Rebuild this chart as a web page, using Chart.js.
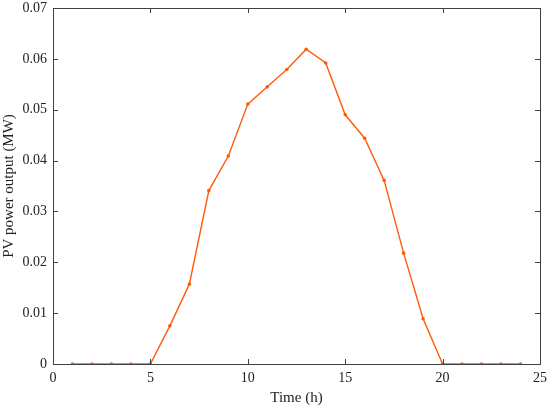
<!DOCTYPE html>
<html>
<head>
<meta charset="utf-8">
<script src="https://cdn.jsdelivr.net/npm/chart.js@4/dist/chart.umd.min.js"></script>
<style>
  html, body { margin: 0; padding: 0; background: #fff; }
  #wrap { width: 550px; height: 407px; }
</style>
</head>
<body>
<div id="wrap"><canvas id="pv-chart" width="550" height="407"></canvas></div>
<script>
// Hourly PV output
const hours = [1, 2, 3, 4, 5, 6, 7, 8, 9, 10, 11, 12, 13, 14, 15, 16, 17, 18, 19, 20, 21, 22, 23, 24];
const pvOutput = [0, 0, 0, 0, 0, 0.0075, 0.0157, 0.0341, 0.0409, 0.0511, 0.0545, 0.0579,
  0.0619, 0.0592, 0.0490, 0.0444, 0.0361, 0.0218, 0.0089, 0, 0, 0, 0, 0];
const xTicks = [0, 5, 10, 15, 20, 25];
const yTicks = [0, 0.01, 0.02, 0.03, 0.04, 0.05, 0.06, 0.07];

const axisColor = '#404040';
const lineColor = '#ff5a0a';
const font = "'Liberation Serif', 'Times New Roman', serif";

// Matlab-style box with inward tick marks on all four sides
const boxTicks = {
  id: 'boxTicks',
  afterDraw(chart) {
    const { ctx, chartArea: a, scales } = chart;
    const len = 5;
    ctx.save();
    ctx.strokeStyle = axisColor;
    ctx.lineWidth = 1;
    ctx.beginPath();
    xTicks.forEach(v => {
      const px = Math.round(scales.x.getPixelForValue(v)) + 0.5;
      ctx.moveTo(px, a.bottom); ctx.lineTo(px, a.bottom - len);
      ctx.moveTo(px, a.top); ctx.lineTo(px, a.top + len);
    });
    yTicks.forEach(v => {
      const py = Math.round(scales.y.getPixelForValue(v)) + 0.5;
      ctx.moveTo(a.left, py); ctx.lineTo(a.left + len, py);
      ctx.moveTo(a.right, py); ctx.lineTo(a.right - len, py);
    });
    ctx.stroke();
    ctx.strokeRect(Math.round(a.left) + 0.5, Math.round(a.top) + 0.5,
      Math.round(a.right - a.left), Math.round(a.bottom - a.top));
    ctx.restore();
  }
};

function initChart() {
  const ctx = document.getElementById('pv-chart').getContext('2d');
  new Chart(ctx, {
    type: 'line',
    data: {
      datasets: [{
        data: hours.map((h, i) => ({ x: h, y: pvOutput[i] })),
        borderColor: lineColor,
        backgroundColor: lineColor,
        borderWidth: 1.4,
        pointRadius: 1.8,
        pointHoverRadius: 1.8,
        pointBorderWidth: 0,
        tension: 0
      }]
    },
    options: {
      responsive: false,
      animation: false,
      events: [],
      layout: { padding: { left: 0, right: 10, top: 8, bottom: 0 } },
      plugins: { legend: { display: false }, tooltip: { enabled: false } },
      scales: {
        x: {
          type: 'linear',
          min: 0,
          max: 25,
          afterFit(s) { s.height = 43; s.paddingLeft = 0; s.paddingRight = 0; },
          afterBuildTicks(s) { s.ticks = xTicks.map(v => ({ value: v })); },
          grid: { display: false, drawTicks: false },
          border: { display: false },
          ticks: {
            padding: 6,
            color: '#222',
            font: { family: font, size: 14 }
          },
          title: {
            display: true,
            text: 'Time (h)',
            color: '#222',
            padding: { top: 1, bottom: 0 },
            font: { family: font, size: 15 }
          }
        },
        y: {
          min: 0,
          max: 0.07,
          afterFit(s) { s.width = 53; s.paddingTop = 0; s.paddingBottom = 0; },
          afterBuildTicks(s) { s.ticks = yTicks.map(v => ({ value: v })); },
          grid: { display: false, drawTicks: false },
          border: { display: false },
          ticks: {
            padding: 6,
            color: '#222',
            font: { family: font, size: 14 },
            callback: v => (v === 0 ? '0' : v.toFixed(2))
          },
          title: {
            display: true,
            text: 'PV power output (MW)',
            color: '#222',
            padding: { top: 0, bottom: 2 },
            font: { family: font, size: 15 }
          }
        }
      }
    },
    plugins: [boxTicks]
  });
}

document.addEventListener('DOMContentLoaded', initChart);
</script>
</body>
</html>
